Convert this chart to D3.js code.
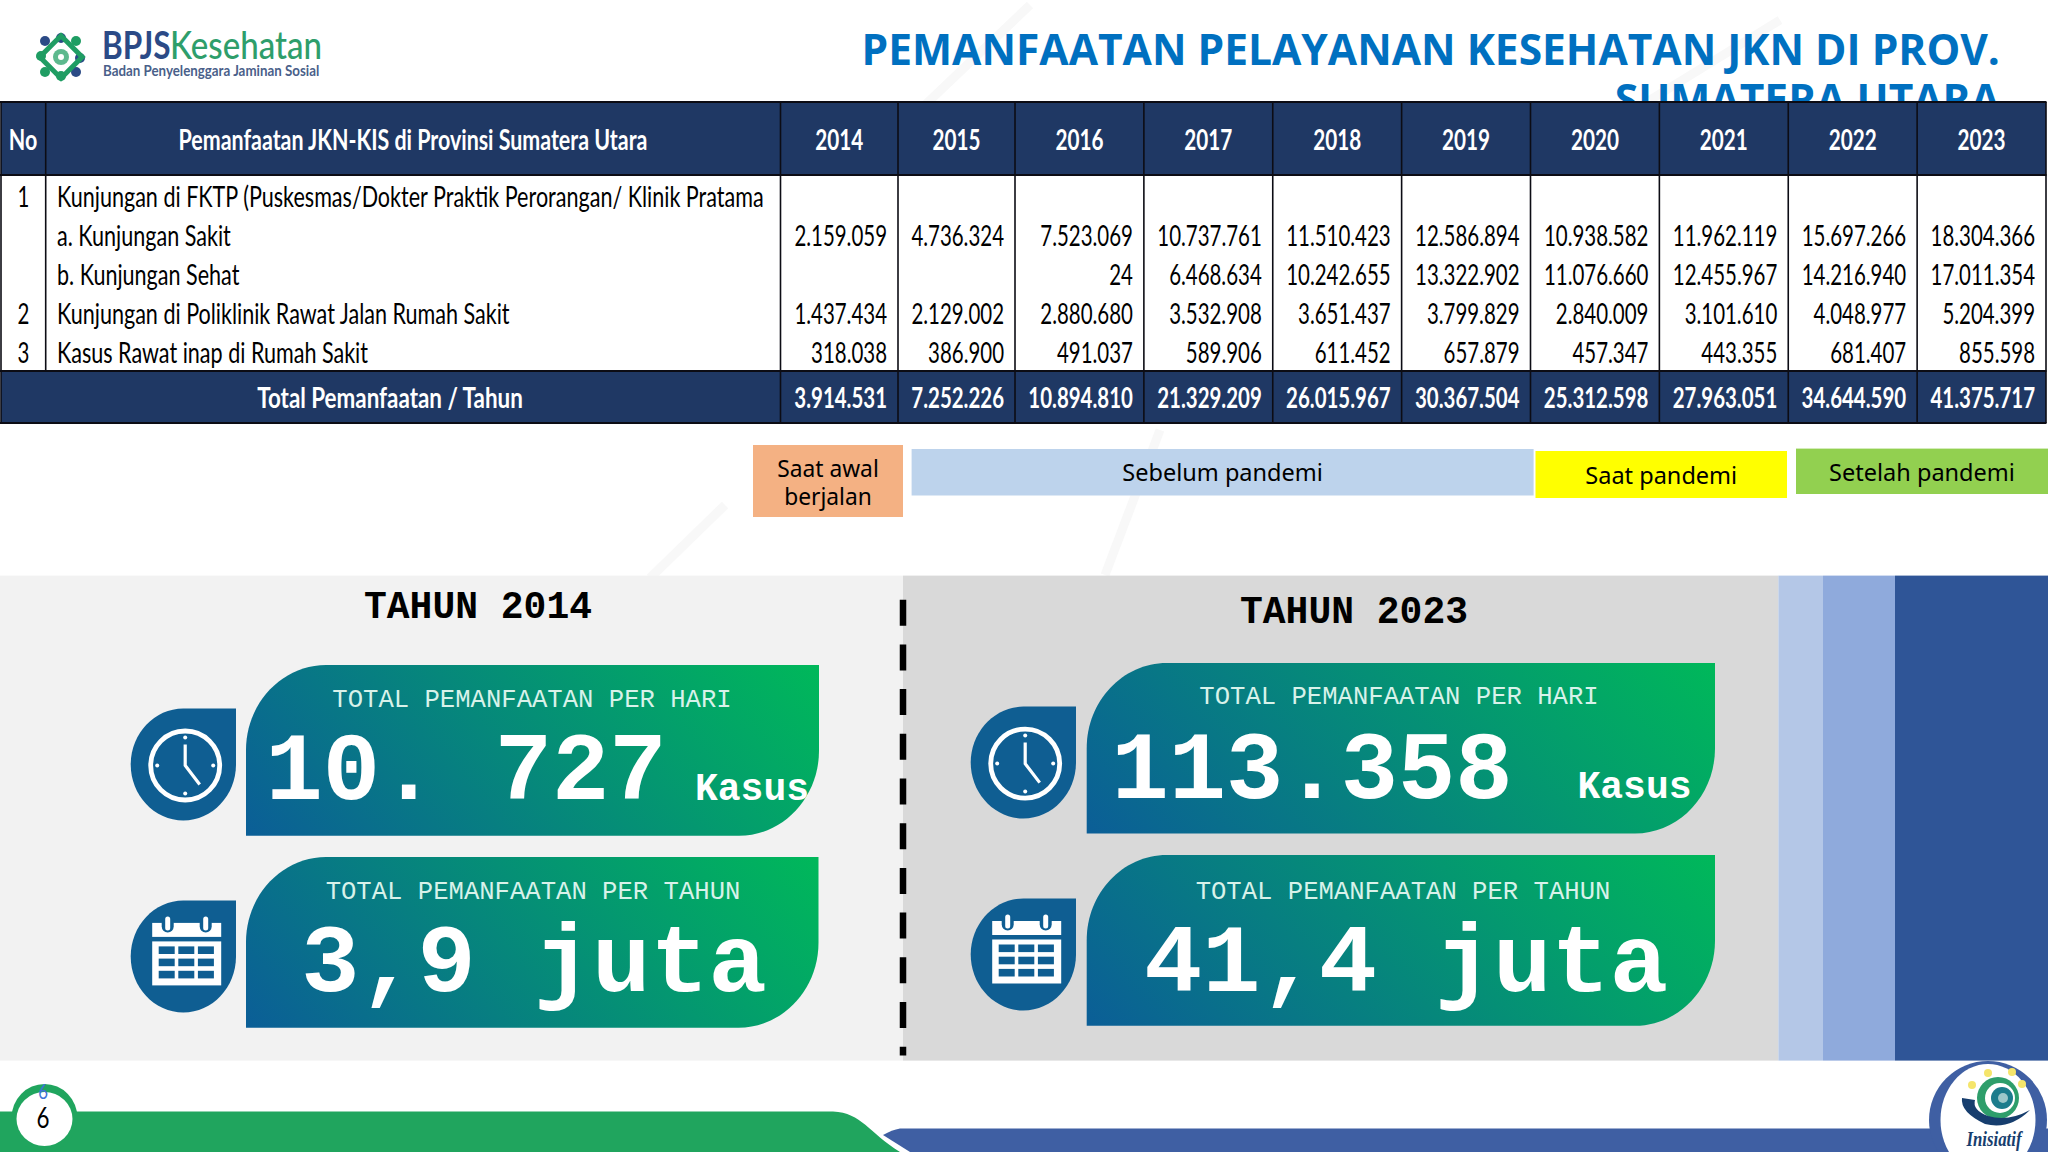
<!DOCTYPE HTML>
<html>
<head>
<meta charset="utf-8">
<script src="https://cdnjs.cloudflare.com/ajax/libs/d3/7.8.5/d3.min.js"></script>
<style>
  html, body { margin: 0; padding: 0; background: #fff; overflow: hidden; }
  svg { display: block; }
</style>
</head>
<body>
<div id="chart"></div>
<script>
// table values
var years = [2014, 2015, 2016, 2017, 2018, 2019, 2020, 2021, 2022, 2023];
var rowLabels = ["Kunjungan di FKTP (Puskesmas/Dokter Praktik Perorangan/ Klinik Pratama",
  "a. Kunjungan Sakit", "b. Kunjungan Sehat",
  "Kunjungan di Poliklinik Rawat Jalan Rumah Sakit", "Kasus Rawat inap di Rumah Sakit"];
var rowNumbers = ["1", "", "", "2", "3"];
var kunjunganFktp = [null, null, null, null, null, null, null, null, null, null];
var kunjunganSakit = [2159059, 4736324, 7523069, 10737761, 11510423, 12586894, 10938582, 11962119, 15697266, 18304366];
var kunjunganSehat = [null, null, 24, 6468634, 10242655, 13322902, 11076660, 12455967, 14216940, 17011354];
var kunjunganPoli = [1437434, 2129002, 2880680, 3532908, 3651437, 3799829, 2840009, 3101610, 4048977, 5204399];
var rawatInap = [318038, 386900, 491037, 589906, 611452, 657879, 457347, 443355, 681407, 855598];
var totalTahun = [3914531, 7252226, 10894810, 21329209, 26015967, 30367504, 25312598, 27963051, 34644590, 41375717];
var rowValues = [kunjunganFktp, kunjunganSakit, kunjunganSehat, kunjunganPoli, rawatInap];

var titleLines = ["PEMANFAATAN PELAYANAN KESEHATAN JKN DI PROV.", "SUMATERA UTARA"];
var periodNames = ["Sebelum pandemi", "Saat pandemi", "Setelah pandemi"];
var perHari = ["10. 727", "113.358"];
var perTahun = ["3,9 juta", "41,4 juta"];

var width = 2048, height = 1152;
var svg = d3.select("#chart").append("svg").attr("width", width).attr("height", height);
var defs = svg.append("defs");

var grad = defs.append("linearGradient").attr("id", "cardFill")
  .attr("x1", 0).attr("y1", 1).attr("x2", 1.176).attr("y2", 0.706);
grad.append("stop").attr("offset", "0%").attr("stop-color", "#0B5E97");
grad.append("stop").attr("offset", "100%").attr("stop-color", "#00B85A");

var navy = "#1F3864", line = "#0c0c14";
var calibri = "Lato, Carlito, sans-serif", mono = "'Liberation Mono', monospace";

// text helper, the reference text is squeezed sideways so sx scales it
function label(parent, txt, x, y, o) {
  return parent.append("text")
    .attr("transform", "translate(" + x + "," + y + ") scale(" + (o.sx || 1) + ",1)")
    .attr("text-anchor", o.anchor || "start")
    .attr("font-family", o.family || calibri)
    .attr("font-size", o.size)
    .attr("font-weight", o.weight || 400)
    .attr("fill", o.fill || "#000")
    .attr("letter-spacing", o.spacing || null)
    .text(txt);
}

// faint watermark streaks behind everything
var streaks = [[1030, 5, 925, 105], [725, 505, 650, 578], [1490, 175, 1380, 400], [1160, 430, 1105, 575], [1780, 20, 1650, 100]];
svg.selectAll("line.streak").data(streaks).enter().append("line").attr("class", "streak")
  .attr("x1", function(d) { return d[0]; }).attr("y1", function(d) { return d[1]; })
  .attr("x2", function(d) { return d[2]; }).attr("y2", function(d) { return d[3]; })
  .attr("stroke", "#f8f8f8").attr("stroke-width", 9);

// header logo
var logo = svg.append("g");
var dots = [[45, 41, "#2B4A86"], [61, 38, "#2B4A86"], [76, 41, "#1F9D63"], [80, 58, "#2B4A86"], [76, 72, "#2B4A86"], [61, 76, "#1F9D63"], [45, 72, "#1F9D63"], [41, 56, "#1F9D63"]];
logo.selectAll("circle").data(dots).enter().append("circle")
  .attr("cx", function(d) { return d[0]; }).attr("cy", function(d) { return d[1]; })
  .attr("r", 5).attr("fill", function(d) { return d[2]; });
logo.append("rect").attr("x", 46).attr("y", 42).attr("width", 30).attr("height", 30)
  .attr("transform", "rotate(45 61 57)").attr("fill", "none").attr("stroke", "#1F9D63").attr("stroke-width", 5);
logo.append("circle").attr("cx", 61).attr("cy", 57).attr("r", 8).attr("fill", "#5DB98E");
logo.append("circle").attr("cx", 61).attr("cy", 57).attr("r", 3).attr("fill", "#fff");
label(logo, "BPJS", 102, 59, { size: 38, sx: 0.83, fill: "#2B4A86", weight: 700 });
label(logo, "Kesehatan", 170, 59, { size: 38, sx: 0.87, fill: "#2E9E6B", weight: 500 });
label(logo, "Badan Penyelenggara Jaminan Sosial", 103, 76, { size: 14.5, sx: 0.92, fill: "#4A5F8A", weight: 700 });

// title, second line runs under the table like the reference
titleLines.forEach(function(t, i) {
  label(svg, t, 2000, 65 + i * 50, { size: 42.5, anchor: "end", family: "'Open Sans', sans-serif", weight: 700, fill: "#0070C0" });
});

// table scales
var yearX = d3.scaleLinear().domain([2014, 2015, 2016, 2024]).range([780.5, 898, 1015, 2046]);
var rowY = d3.scaleBand().domain(d3.range(rowLabels.length)).range([175, 371]);
var fmt = d3.formatLocale({ decimal: ",", thousands: ".", grouping: [3], currency: ["", ""] }).format(",d");
var cellSx = 0.73, textSx = 0.77, headSx = 0.765, totalSx = 0.8;

var table = svg.append("g");
table.append("rect").attr("x", 1).attr("y", 175).attr("width", 2045).attr("height", 196).attr("fill", "#fff").attr("fill-opacity", 0.96);
table.append("rect").attr("x", 1).attr("y", 102).attr("width", 2045).attr("height", 73).attr("fill", navy);
table.append("rect").attr("x", 1).attr("y", 371).attr("width", 2045).attr("height", 52).attr("fill", navy);

// vertical rules and band borders
var rulesX = [1, 45.7].concat(years.map(function(y) { return yearX(y); })).concat([yearX(2024)]);
table.selectAll("line.v").data(rulesX).enter().append("line").attr("class", "v")
  .attr("x1", function(d) { return d; }).attr("x2", function(d) { return d; })
  .attr("y1", 102).attr("y2", function(d) { return d === 45.7 ? 371 : 423; })
  .attr("stroke", line).attr("stroke-width", 1.6);
[102, 175, 371, 423].forEach(function(y) {
  table.append("line").attr("x1", 0).attr("x2", 2046.5).attr("y1", y).attr("y2", y).attr("stroke", line).attr("stroke-width", 2);
});

// header row
label(table, "No", 23, 150, { size: 28, sx: headSx, anchor: "middle", fill: "#fff", weight: 700 });
label(table, "Pemanfaatan JKN-KIS di Provinsi Sumatera Utara", 413, 150, { size: 28, sx: headSx, anchor: "middle", fill: "#fff", weight: 700 });
years.forEach(function(y) {
  label(table, y, (yearX(y) + yearX(y + 1)) / 2, 150, { size: 28, sx: 0.74, anchor: "middle", fill: "#fff", weight: 700 });
});

// body rows
rowLabels.forEach(function(t, i) {
  var base = rowY(i) + rowY.bandwidth() / 2 + 12;
  label(table, rowNumbers[i], 23.5, base, { size: 28, sx: cellSx, anchor: "middle" });
  label(table, t, 57, base, { size: 28, sx: textSx });
  rowValues[i].forEach(function(v, j) {
    if (v === null) return;
    label(table, fmt(v), yearX(years[j] + 1) - 11, base, { size: 28, sx: cellSx, anchor: "end" });
  });
});

// total row
label(table, "Total Pemanfaatan / Tahun", 390, 408, { size: 28, sx: totalSx, anchor: "middle", fill: "#fff", weight: 700 });
totalTahun.forEach(function(v, j) {
  label(table, fmt(v), yearX(years[j] + 1) - 11, 408, { size: 28, sx: cellSx, anchor: "end", fill: "#fff", weight: 700 });
});

// period boxes
var awal = svg.append("g");
awal.append("rect").attr("x", 753).attr("y", 445).attr("width", 150).attr("height", 72).attr("fill", "#F4B183");
label(awal, "Saat awal", 828, 477, { size: 24, anchor: "middle", family: "'Noto Sans', sans-serif", sx: 0.95 });
label(awal, "berjalan", 828, 505, { size: 24, anchor: "middle", family: "'Noto Sans', sans-serif", sx: 0.95 });

var periodBox = [[911.6, 449, 622, 46.5, "#BDD3EC", 481], [1535.5, 451, 251.5, 47, "#FFFF00", 484], [1796, 448.6, 252, 45.4, "#92D050", 481]];
periodNames.forEach(function(n, i) {
  var b = periodBox[i];
  svg.append("rect").attr("x", b[0]).attr("y", b[1]).attr("width", b[2]).attr("height", b[3]).attr("fill", b[4]);
  label(svg, n, b[0] + b[2] / 2, b[5], { size: 24, anchor: "middle", family: "'Noto Sans', sans-serif", sx: 0.98 });
});

// lower panels
svg.append("rect").attr("x", 0).attr("y", 575.6).attr("width", 903).attr("height", 485).attr("fill", "#F2F2F2");
svg.append("rect").attr("x", 903).attr("y", 575.6).attr("width", 875.4).attr("height", 485).attr("fill", "#D9D9D9");
svg.append("rect").attr("x", 1778.4).attr("y", 575.6).attr("width", 44.6).attr("height", 485).attr("fill", "#B4C7E7");
svg.append("rect").attr("x", 1823).attr("y", 575.6).attr("width", 72).attr("height", 485).attr("fill", "#8FAADC");
svg.append("rect").attr("x", 1895).attr("y", 575.6).attr("width", 153).attr("height", 485).attr("fill", "#2F5597");
svg.append("line").attr("x1", 903).attr("x2", 903).attr("y1", 599.7).attr("y2", 1055.5)
  .attr("stroke", "#000").attr("stroke-width", 6.5).attr("stroke-dasharray", "26,18.7");

// card with two big rounded corners, top left and bottom right
function card(x, y, w, h) {
  var rx = 80, ry = 85;
  var p = d3.path();
  p.moveTo(x, y + h);
  p.lineTo(x, y + ry);
  p.bezierCurveTo(x, y + ry * 0.45, x + rx * 0.45, y, x + rx, y);
  p.lineTo(x + w, y);
  p.lineTo(x + w, y + h - ry);
  p.bezierCurveTo(x + w, y + h - ry * 0.45, x + w - rx * 0.45, y + h, x + w - rx, y + h);
  p.closePath();
  svg.append("path").attr("d", p.toString()).attr("fill", "url(#cardFill)");
}

// teardrop badge, square corner at top right
function badge(x, y) {
  var w = 105.3, h = 112, rx = w / 2, ry = h / 2;
  var p = d3.path();
  p.moveTo(x + w, y);
  p.lineTo(x + rx, y);
  p.bezierCurveTo(x + rx * 0.45, y, x, y + ry * 0.45, x, y + ry);
  p.bezierCurveTo(x, y + ry * 1.55, x + rx * 0.45, y + h, x + rx, y + h);
  p.bezierCurveTo(x + rx * 1.55, y + h, x + w, y + ry * 1.55, x + w, y + ry);
  p.closePath();
  svg.append("path").attr("d", p.toString()).attr("fill", "#0F5E92");
}

function clockIcon(x, y) {
  var g = svg.append("g").attr("transform", "translate(" + x + "," + y + ")");
  g.append("circle").attr("cx", 54.5).attr("cy", 57).attr("r", 34.5).attr("fill", "none").attr("stroke", "#fff").attr("stroke-width", 4.8);
  [[54.5, 29], [54.5, 85], [26.5, 57], [82.5, 57]].forEach(function(d) {
    g.append("circle").attr("cx", d[0]).attr("cy", d[1]).attr("r", 2).attr("fill", "#fff");
  });
  g.append("path").attr("d", "M54.5,36V57L69,76").attr("fill", "none").attr("stroke", "#fff").attr("stroke-width", 3.2);
}

function calendarIcon(x, y) {
  var g = svg.append("g").attr("transform", "translate(" + x + "," + y + ")");
  g.append("rect").attr("x", 21.5).attr("y", 22.5).attr("width", 69).attr("height", 14).attr("fill", "#fff");
  g.append("rect").attr("x", 21.5).attr("y", 41).attr("width", 69).attr("height", 44).attr("fill", "#fff");
  [37, 75].forEach(function(cx) {
    g.append("rect").attr("x", cx - 6).attr("y", 17).attr("width", 12).attr("height", 15).attr("rx", 6).attr("fill", "#0F5E92");
    g.append("rect").attr("x", cx - 2.5).attr("y", 16).attr("width", 5).attr("height", 14).attr("rx", 2.5).attr("fill", "#fff");
  });
  [0, 1, 2].forEach(function(r) {
    [0, 1, 2].forEach(function(c) {
      g.append("rect").attr("x", 28 + c * 19.6).attr("y", 46 + r * 12.2).attr("width", 16).attr("height", 7.6).attr("fill", "#0F5E92");
    });
  });
}

var panelYears = ["TAHUN 2014", "TAHUN 2023"];
var panelTitleX = [478, 1354], panelTitleY = [617.5, 622.7];
panelYears.forEach(function(t, i) {
  label(svg, t, panelTitleX[i], panelTitleY[i], { size: 38, anchor: "middle", family: mono, weight: 700 });
});

card(246, 665, 573, 170.8);
card(246, 857, 572.5, 170.7);
card(1086.7, 663, 628.3, 170.5);
card(1086.7, 855, 628.3, 170.8);

badge(130.7, 708.5); clockIcon(130.7, 708.5);
badge(130.7, 900.4); calendarIcon(130.7, 900.4);
badge(970.7, 706.6); clockIcon(970.7, 706.6);
badge(970.7, 898.5); calendarIcon(970.7, 898.5);

var capsFill = "#D8F2EA";
label(svg, "TOTAL PEMANFAATAN PER HARI", 532, 706.6, { size: 25.6, anchor: "middle", family: mono, fill: capsFill });
label(svg, "TOTAL PEMANFAATAN PER TAHUN", 533, 898.5, { size: 25.6, anchor: "middle", family: mono, fill: capsFill });
label(svg, "TOTAL PEMANFAATAN PER HARI", 1399, 704.4, { size: 25.6, anchor: "middle", family: mono, fill: capsFill });
label(svg, "TOTAL PEMANFAATAN PER TAHUN", 1403, 898.5, { size: 25.6, anchor: "middle", family: mono, fill: capsFill });

label(svg, perHari[0], 466, 799, { size: 95.5, anchor: "middle", family: mono, weight: 700, fill: "#fff" });
label(svg, perHari[1], 1312, 797.5, { size: 95.5, anchor: "middle", family: mono, weight: 700, fill: "#fff" });
label(svg, "Kasus", 752, 800, { size: 38, anchor: "middle", family: mono, weight: 700, fill: "#fff" });
label(svg, "Kasus", 1634.5, 798, { size: 38, anchor: "middle", family: mono, weight: 700, fill: "#fff" });
label(svg, perTahun[0], 534, 991.3, { size: 97, anchor: "middle", family: mono, weight: 700, fill: "#fff" });
label(svg, perTahun[1], 1406, 991.3, { size: 97, anchor: "middle", family: mono, weight: 700, fill: "#fff" });

// footer bands
var footerBlue = d3.path();
footerBlue.moveTo(2048, 1128.6);
footerBlue.lineTo(900, 1128.6);
footerBlue.quadraticCurveTo(892, 1130, 883, 1135);
footerBlue.lineTo(910, 1152);
footerBlue.lineTo(2048, 1152);
footerBlue.closePath();
svg.append("path").attr("d", footerBlue.toString()).attr("fill", "#3F5FA3");

var footerGreen = d3.path();
footerGreen.moveTo(0, 1152);
footerGreen.lineTo(0, 1111.5);
footerGreen.lineTo(833, 1111.5);
footerGreen.bezierCurveTo(862, 1113, 868, 1132, 900, 1152);
footerGreen.closePath();
svg.append("path").attr("d", footerGreen.toString()).attr("fill", "#20A55E");

// page number badge
svg.append("ellipse").attr("cx", 44.5).attr("cy", 1118).attr("rx", 33).attr("ry", 34).attr("fill", "#20A55E");
svg.append("ellipse").attr("cx", 44.5).attr("cy", 1119).attr("rx", 28).attr("ry", 27).attr("fill", "#fff");
label(svg, "6", 43, 1099, { size: 21, sx: 0.8, anchor: "middle", fill: "#3F74D6" });
label(svg, "6", 43, 1128, { size: 28, sx: 0.8, anchor: "middle" });

// inisiatif logo
var ini = svg.append("g");
ini.append("circle").attr("cx", 1988).attr("cy", 1120).attr("r", 59).attr("fill", "#3F5FA3");
ini.append("ellipse").attr("cx", 1988).attr("cy", 1120).attr("rx", 47.5).attr("ry", 56).attr("fill", "#fff");
[[1972, 1085], [1988, 1073], [2012, 1072], [2022, 1084]].forEach(function(d) {
  ini.append("circle").attr("cx", d[0]).attr("cy", d[1]).attr("r", 4).attr("fill", "#F5E56B");
});
ini.append("circle").attr("cx", 1998).attr("cy", 1098).attr("r", 21).attr("fill", "#2E9E6B");
ini.append("circle").attr("cx", 2000).attr("cy", 1098).attr("r", 15).attr("fill", "#fff");
ini.append("circle").attr("cx", 2002).attr("cy", 1098).attr("r", 11).attr("fill", "#1C7C8C");
ini.append("circle").attr("cx", 2003).attr("cy", 1098).attr("r", 5).attr("fill", "#9CC7C9");
ini.append("path").attr("d", "M1962,1098Q1960,1112 1985,1124Q2010,1130 2030,1110Q2008,1122 1988,1116Q1972,1110 1975,1100Z").attr("fill", "#173E6E");
label(ini, "Inisiatif", 1994, 1146, { size: 21, sx: 0.8, anchor: "middle", family: "'Liberation Serif', serif", weight: 700, fill: "#173E6E" }).attr("font-style", "italic");
</script>
</body>
</html>
